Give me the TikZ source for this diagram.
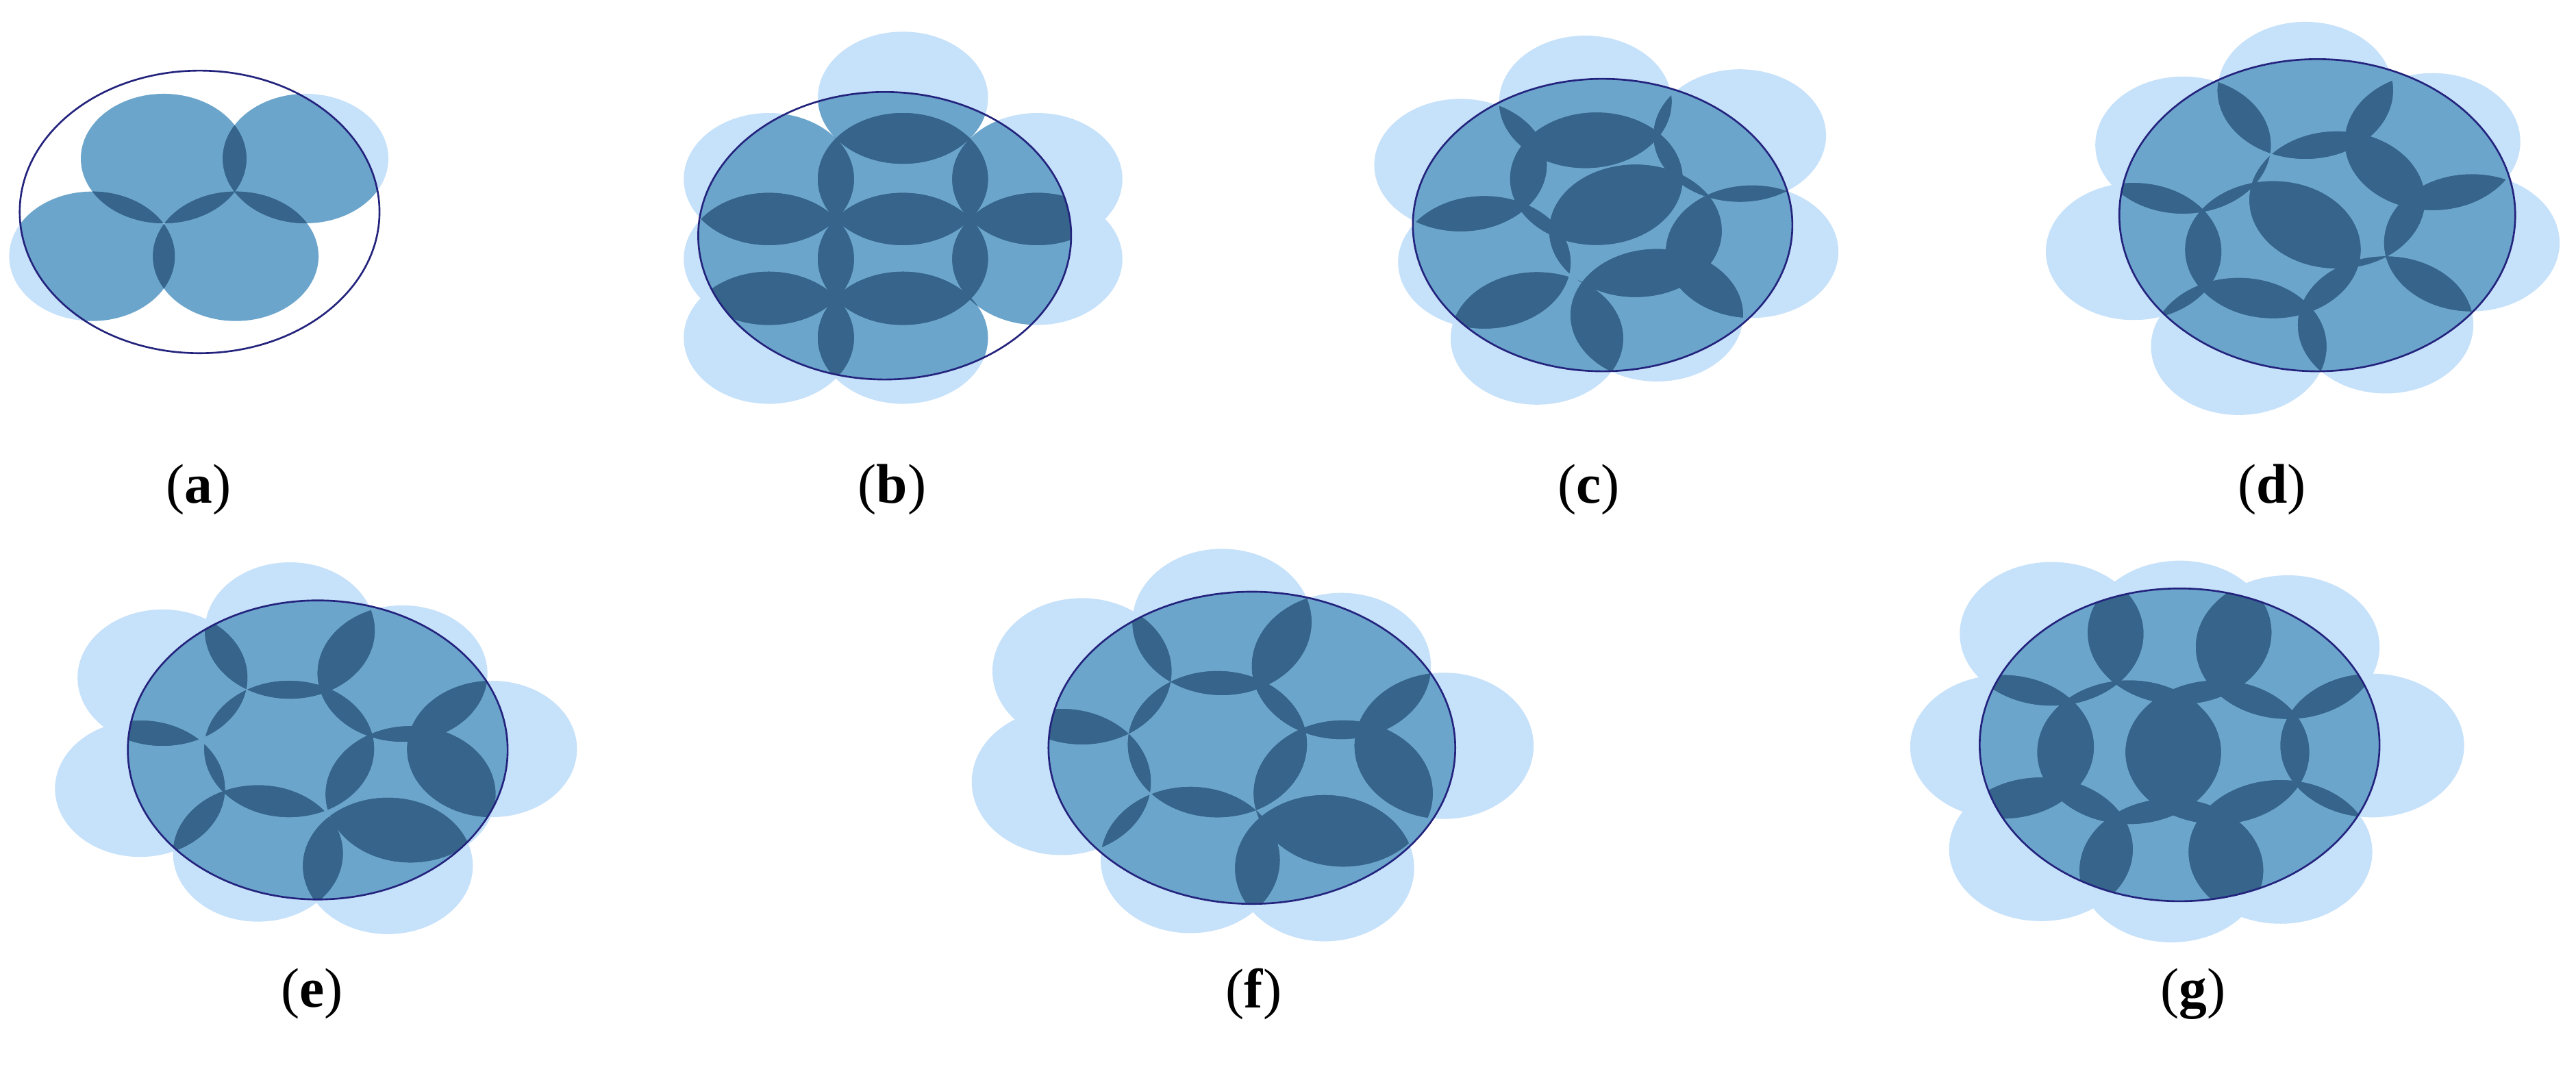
\documentclass[tikz,border=0pt]{standalone}
\usepackage{fontspec}
\setmainfont{Liberation Serif}
\definecolor{lightc}{RGB}{198,225,250}
\definecolor{midc}{RGB}{108,165,203}
\definecolor{darkc}{RGB}{54,100,139}
\definecolor{edgec}{RGB}{35,35,125}
\tikzset{lbl/.style={font=\fontsize{34}{40}\selectfont, inner sep=0pt}}
% #1 cx, #2 cy, #3 rx, #4 ry, #5 Rx, #6 Ry, #7 circle centres, #8 colour of the bare ellipse
\newcommand\covpanel[8]{%
  \fill[#8] (#1,#2) ellipse [x radius=#3pt, y radius=#4pt];
  \foreach \px/\py in {#7} {\fill[lightc] (\px,\py) ellipse [x radius=#5pt, y radius=#6pt];}
  \begin{scope}
    \clip (#1,#2) ellipse [x radius=#3pt, y radius=#4pt];
    \fill[#8] (#1,#2) ellipse [x radius=#3pt, y radius=#4pt];
    \foreach \px/\py in {#7} {\fill[midc] (\px,\py) ellipse [x radius=#5pt, y radius=#6pt];}
    \foreach \px/\py [count=\ii] in {#7} {
      \begin{scope}
        \clip (\px,\py) ellipse [x radius=#5pt, y radius=#6pt];
        \foreach \qx/\qy [count=\jj] in {#7} {
          \ifnum\ii=\jj\relax\else
            \fill[darkc] (\qx,\qy) ellipse [x radius=#5pt, y radius=#6pt];
          \fi
        }
      \end{scope}
    }
  \end{scope}
  \draw[edgec, line width=1.1pt] (#1,#2) ellipse [x radius=#3pt, y radius=#4pt];
}
\begin{document}
\begin{tikzpicture}[x=1pt,y=-1pt]
\useasboundingbox[fill=white] (0,0) rectangle (1568,648);
% (a)
\covpanel{121.5}{129}{109.5}{86}{50.4}{39.4}{99.6/96.5, 186/96.5, 56/156, 143.5/156}{white}
% (b)
\covpanel{538.5}{143.5}{113.5}{87.5}{51.8}{40.2}{549.6/59.5, 468.0/109.0, 549.6/109.0, 631.4/109.0, 468.0/157.6, 549.6/157.6, 631.4/157.6, 468.0/205.6, 549.6/205.6}{white}
% (c)
\covpanel{975.5}{137}{115.5}{89}{52.5}{40.3}{965.0/62.0, 1059.0/82.5, 889.0/100.5, 971.7/108.8, 995.5/140.5, 1066.5/153.2, 903.5/159.7, 935.5/206.0, 1008.5/191.9}{midc}
% (d)
\covpanel{1410.5}{131}{120.5}{95}{53.4}{41.7}{1403.2/55.0, 1328.8/88.3, 1480.7/86.2, 1504.6/147.8, 1298.7/153.1, 1362.7/210.9, 1452.1/197.8, 1422.6/121.7, 1383.5/152.0}{midc}
% (e)
\covpanel{193.4}{456.5}{115.6}{91}{51.7}{41.5}{176.4/383.8, 98.9/412.5, 245.0/410.0, 299.5/455.9, 85.2/480.1, 157.0/519.5, 236.1/527.1, 176.0/455.9, 249.9/483.5}{midc}
% (f)
\covpanel{762}{455.2}{123.8}{95}{54.5}{44.5}{743.8/378.6, 658.6/408.6, 816.5/405.4, 879.0/454.0, 646.0/476.0, 741.0/453.0, 724.5/523.5, 806.3/528.5, 817.6/483.0}{midc}
% (g)
\covpanel{1326.7}{453.4}{121.7}{95.2}{55.9}{43.7}{1248.8/385.8, 1326.7/385.0, 1392.5/393.9, 1218.6/454.6, 1296.0/457.9, 1349.7/457.9, 1444.0/453.8, 1242.3/517.0, 1321.7/529.9, 1388.1/518.6}{midc}
% labels
\node[lbl] (la) at (121,298) {(\textbf{a})};
\node[lbl] (lb) at (543,298) {(\textbf{b})};
\node[lbl] (lc) at (967,298) {(\textbf{c})};
\node[lbl] (ld) at (1383,298) {(\textbf{d})};
\node[lbl] (le) at (190,605) {(\textbf{e})};
\node[lbl] (lf) at (763,605) {(\textbf{f})};
\node[lbl] (lg) at (1335,605) {(\textbf{g})};
\end{tikzpicture}
\end{document}
